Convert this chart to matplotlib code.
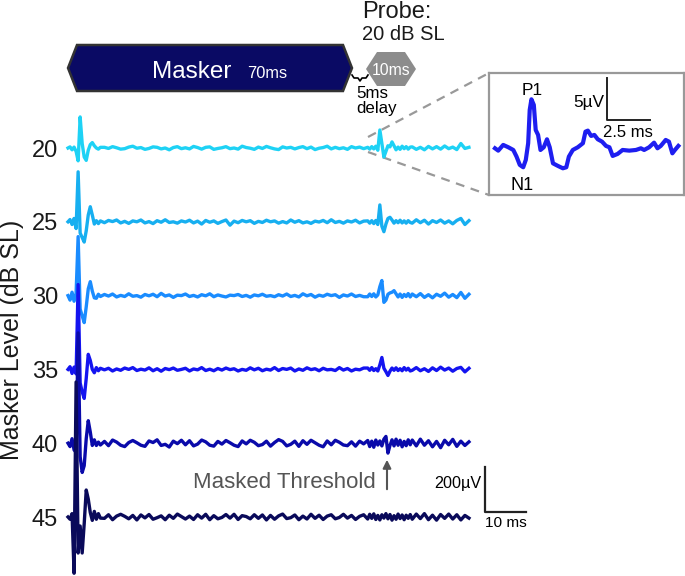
import numpy as np
import matplotlib
matplotlib.use("Agg")
import matplotlib.pyplot as plt
from matplotlib.patches import Polygon

plt.rcParams['font.family'] = ['Liberation Sans', 'DejaVu Sans']

# ---- data : traces in uV ----
levels = [20, 25, 30, 35, 40, 45]
colors = ['#1ED2F5', '#17AFF0', '#1A8CFF', '#1414F0', '#0A0AAA', '#0A0A5A']

# time base (ms) : fine around onset and probe, 1 ms elsewhere
t_ms = np.concatenate([np.arange(0, 8.5, 0.5), np.arange(9, 74, 1.0),
                       np.arange(74, 85, 0.5), np.arange(85, 100, 1.0)])

onset = {
    20: [0, 5, -8, 4, -15, -57, 138, 20, -40, -55, -10, 15, 24, 10, 0, -5, 3],
    25: [0, 10, -12, 15, -30, 222, -50, -70, -90, -40, 30, 67, 30, -10, 5, -8, 4],
    30: [0, -20, 15, -25, 10, 262, -60, -90, -120, -50, 30, 62, 20, -10, -12, 6, -4],
    35: [0, 12, -18, 10, -20, 377, -60, -100, -129, -40, 67, 40, 0, -15, 8, -6, 5],
    40: [0, -15, 20, -30, -40, 490, -60, -130, -100, 20, 100, 50, -10, 15, -10, 5, -8],
    45: [0, -10, 15, -250, 600, -160, -40, -160, -30, 120, 80, 20, -15, 25, -10, 15, -5],
}
mid = {
    20: [3, -2, 6, 1, -5, -3, 4, 8, -1, 2,
         -6, -2, 5, 3, -4, 0, -8, 2, 6, -3,
         1, -4, 7, 2, -5, 3, 5, -6, -2, 1,
         6, -3, 0, -5, 8, 2, -1, -6, 4, -2,
         7, 1, -4, -7, 5, 0, 3, -4, 2, 6,
         -3, 4, -7, -1, 2, 8, -4, 3, -3, 1,
         -6, 6, 0, 4, -3],
    25: [-4, 6, 1, 8, -5, 2, -7, 4, 0, 8,
         -5, 1, -8, 5, -2, 9, -3, 0, -6, 4,
         -1, 7, -5, 3, -10, 6, -2, 4, -7, 1,
         8, -15, 3, -4, 6, 0, 5, -7, 2, -3,
         7, 0, 4, -6, 1, -5, 8, -2, 5, -5,
         0, -7, 3, -1, 6, -4, 9, -3, 2, -6,
         4, -1, 7, -5, 3],
    30: [5, -2, 7, -6, 1, -4, 8, -3, 0, -7,
         5, -1, 6, -5, 10, -2, 3, -8, 2, 0,
         7, -4, 1, -6, 4, -1, 8, -5, 3, -2,
         -6, 2, 0, 5, -4, 1, -7, 3, -1, 6,
         -3, 0, -5, 4, -2, 7, -4, 1, -6, 8,
         -1, 5, -7, 2, -3, 6, 0, 4, -8, 3,
         -2, 7, -4, 1, -5],
    35: [-2, 5, -7, 2, -4, 6, 0, 8, -5, 1,
         -3, 7, -6, 3, -8, 4, -1, 6, -4, 0,
         5, -7, 2, -2, 8, -5, 1, -6, 4, -3,
         6, -1, 3, -7, 0, -4, 7, -2, 5, -6,
         1, -3, 8, -5, 4, 0, 6, -7, 2, -4,
         7, -1, 3, -6, 5, -2, 0, -5, 8, -3,
         4, -7, 1, -2, 6],
    40: [8, -11, 14, 5, -9, -15, 3, 12, 2, -9,
         -14, 10, 3, 15, -10, -5, -17, 9, -2, 13,
         -7, 11, -12, -4, 14, 6, -9, -13, 8, -4,
         12, 2, -9, -15, 10, -3, 13, 4, -11, -6,
         9, -13, 3, 16, 8, -12, -5, 9, -14, 11,
         -5, 13, 2, -9, -16, 10, -7, 13, 4, -8,
         -11, 6, -13, 9, -3],
    45: [-6, 10, -12, 4, 12, 3, -8, 7, -13, 9,
         -4, 11, -10, -3, 5, -12, 8, -6, 13, 2,
         -9, 4, -11, 10, -5, 12, -12, 6, -8, -2,
         11, -5, 12, -11, 6, 2, -8, 10, -6, 9,
         -13, 7, -10, 5, 13, -7, -3, 9, -12, 4,
         -9, 12, -6, 8, -11, 4, 10, -8, -2, 12,
         -5, 7, -11, 3, 10],
}
probe = {
    20: [3, -5, 6, -4, 8, -10, 80, 20, -40, -15, 10, 5, 27, 10, -8, 4, -6, 8, -3, 6, -5, 4],
    25: [4, -6, 5, -8, 6, -12, 75, -20, -44, -10, 15, 20, 8, -6, 5, -4, 7, -5, 4, -6, 5, -3],
    30: [-5, 7, -4, 8, -6, 3, 40, 67, -30, -20, 6, 12, 15, 22, 8, -6, 7, -8, 5, -4, 9, -6],
    35: [6, -4, 8, -5, 3, -7, 20, 53, 5, -10, -27, -8, 6, -4, 7, -5, 3, -6, 8, -3, 5, -7],
    40: [12, -15, 9, -18, 14, -8, 10, -12, 18, 30, -44, -10, 15, -12, 18, -9, 13, -16, 8, -11, 15, -7],
    45: [-9, 12, -6, 14, -11, 7, -13, 10, -5, 15, -8, 11, -14, 6, -10, 13, -7, 9, -12, 8, -6, 11],
}
tail = {
    20: [5, -6, 3, -8, 7, -4, 6, -5, 9, -3, 4, -7, 20, -2, 3],
    25: [-6, 9, -4, 7, -10, 5, -3, 8, -6, 4, -9, 6, 15, -12, 5],
    30: [7, -5, 9, -8, 4, -10, 6, -3, 11, -7, 5, -9, 14, -12, 6],
    35: [-4, 8, -6, 3, -9, 7, -5, 10, -3, 6, -8, 4, 9, -11, 5],
    40: [14, -12, 18, -9, 11, -16, 8, -20, 13, -7, 17, -14, 9, -10, 6],
    45: [-10, 13, -7, 15, -12, 8, -14, 11, -6, 13, -9, 10, -13, 7, -5],
}

# zoomed probe response (inset), ms / uV
inset_t = [0, 0.19, 0.48, 0.78, 1.07, 1.26, 1.45, 1.65, 1.80, 1.94, 2.03, 2.13, 2.27,
           2.38, 2.52, 2.66, 2.85, 3.04, 3.20, 3.39, 3.68, 3.97, 4.17, 4.32, 4.55,
           4.84, 5.14, 5.29, 5.43, 5.62, 5.81, 6.01, 6.26, 6.49, 6.69, 6.88, 7.17,
           7.46, 7.85, 8.24, 8.53, 8.72, 9.01, 9.30, 9.50, 9.69, 9.98, 10.17, 10.37,
           10.52, 10.72]
inset_uv = [0, -0.28, 0.40, 0.12, -0.20, -0.99, -1.98, -2.26, -1.39, 0.60, 4.56, 5.83, 5.16,
            2.18, 1.59, -0.20, 0.12, 1.07, 0.12, -1.79, -2.10, -2.38, -2.26, -0.99, -0.20,
            0.12, 0.60, 1.98, 2.10, 1.47, 1.59, 1.07, 0.79, 0.28, 0.12, -0.91, -0.67,
            -0.20, -0.28, -0.20, 0, -0.20, 0.12, 0.67, 0, 0.28, 0.99, 0.79, -0.60,
            -0.20, 0.28]

uv_per_db = 65.6   # 200 uV scale bar height in level units

W, H = 685, 576
fig = plt.figure(figsize=(W / 100, H / 100), dpi=100)

# overlay in pixel units for the stimulus schematic
ax0 = fig.add_axes([0, 0, 1, 1])
ax0.set_xlim(0, W)
ax0.set_ylim(H, 0)
ax0.axis('off')

ax0.add_patch(Polygon([(68, 68), (77, 45), (343, 45), (352, 68), (343, 91), (77, 91)],
                      closed=True, facecolor='#0A0A64', edgecolor='#333333', lw=1.8))
ax0.text(192, 78, 'Masker', color='white', fontsize=17.5, ha='center', va='baseline')
ax0.text(267, 78, '70ms', color='white', fontsize=11.8, ha='center', va='baseline')
ax0.add_patch(Polygon([(366, 69), (377, 52), (405, 52), (416, 69), (405, 86), (377, 86)],
                      closed=True, facecolor='#8C8C8C', edgecolor='none'))
ax0.text(391, 75, '10ms', color='white', fontsize=11.3, ha='center', va='baseline')
ax0.text(362, 18, 'Probe:', fontsize=17, color='#1a1a1a', ha='left', va='baseline')
ax0.text(362, 40.5, '20 dB SL', fontsize=14.5, color='#1a1a1a', ha='left', va='baseline')
ax0.plot([352, 354, 358, 360, 362, 366, 368], [75, 78, 78, 81, 78, 78, 75], color='black', lw=1.2)
ax0.text(356, 98, '5ms', fontsize=12.2, ha='left', va='baseline')
ax0.text(356, 113, 'delay', fontsize=12.2, ha='left', va='baseline')

# zoom lines towards the inset
ax0.plot([368, 489], [137, 73], color='#999999', lw=1.6, dashes=(4, 3))
ax0.plot([368, 489], [152, 195], color='#999999', lw=1.6, dashes=(4, 3))

ax0.text(376, 482, 'Masked Threshold', fontsize=16, color='#555555', ha='right', va='center')
ax0.annotate('', xy=(387, 457), xytext=(387, 492),
             arrowprops=dict(arrowstyle='-|>', color='#555555', lw=1.5, mutation_scale=12))
ax0.text(12, 340, 'Masker Level (dB SL)', fontsize=18, rotation=90, ha='center', va='center',
         color='#1a1a1a')

# main traces
ax = fig.add_axes([62 / W, 0, 478 / W, 476 / H])
ax.set_facecolor('none')
ax.set_xlim((62 - 68) / 4.05, (540 - 68) / 4.05)
ax.set_ylim(20 + (576 - 148) / 14.76, 20 + (100 - 148) / 14.76)
for lev, col in zip(levels, colors):
    v = np.array(onset[lev] + mid[lev] + probe[lev] + tail[lev], dtype=float)
    ax.plot(t_ms, lev - v / uv_per_db, color=col, lw=2.4, clip_on=False,
            solid_joinstyle='round')
ax.set_yticks(levels)
ax.set_yticklabels([str(l) for l in levels], fontsize=17, color='#1a1a1a')
ax.tick_params(axis='y', length=0, pad=3)
ax.set_xticks([])
for s in ax.spines.values():
    s.set_visible(False)

# scale bar 10 ms / 200 uV
sb_t, sb_y = 103.0, 44.66
ax.plot([sb_t, sb_t, sb_t + 10], [sb_y - 200 / uv_per_db, sb_y, sb_y], color='#222222', lw=1.6,
        clip_on=False)
ax.text(sb_t - 1, sb_y - 1.95, '200µV', fontsize=11.6, ha='right', va='center')
ax.text(sb_t + 5.2, sb_y + 0.75, '10 ms', fontsize=11.1, ha='center', va='center')

# inset
axi = fig.add_axes([489 / W, 1 - 195 / H, 195 / W, 122 / H])
axi.set_xlim(-0.35, 11.05)
axi.set_ylim(-5.56, 8.96)
axi.plot(inset_t, inset_uv, color='#1E1EF0', lw=3, solid_joinstyle='round')
axi.set_xticks([])
axi.set_yticks([])
for s in axi.spines.values():
    s.set_color('#999999')
    s.set_linewidth(1.6)
axi.plot([6.55, 6.55, 9.05], [8.37, 3.37, 3.37], color='#222222', lw=1.4)
axi.text(6.4, 5.4, '5µV', fontsize=12.4, ha='right', va='center')
axi.text(7.8, 1.9, '2.5 ms', fontsize=12, ha='center', va='center')
axi.text(2.2, 6.9, 'P1', fontsize=12.4, ha='center', va='center')
axi.text(1.6, -4.4, 'N1', fontsize=13, ha='center', va='center')

fig.savefig('out.png', dpi=100)
